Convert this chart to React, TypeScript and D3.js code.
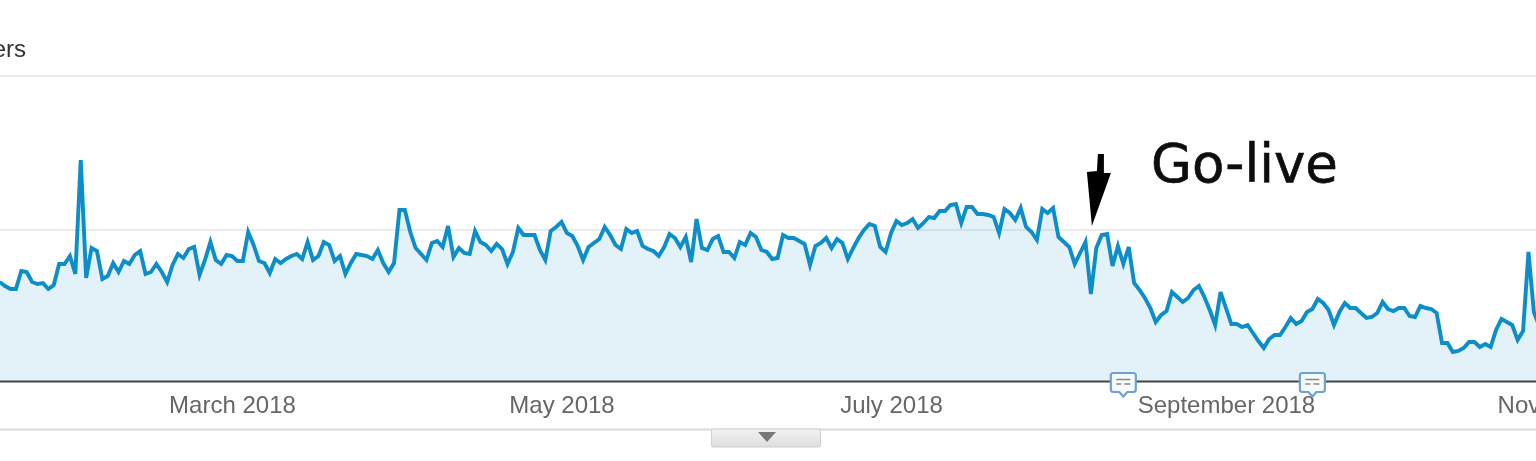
import { useEffect, useRef } from "react";
import * as d3 from "d3";

// daily values, one list per stretch of the timeline
const usersJanToMar = [99,95,92,92,110,109,99,97,98,92,96,117,117,125,107,221,103,133,130,102,105,118,109,120,117,126,130,107,109,117,109,99,116,127,123,132,134,106,121,139,121,117,126];
const usersMarToApr = [125,120,120,149,136,120,118,108,122,118,122,125,127,122,139,121,125,139,136,120,125,107,118,127,126,125,122,131,118,109,118,171,171];
const usersAprToJun = [149,133,127,121,138,140,134,155,124,133,128,127,150,139,136,130,137,132,117,129,153,146,146,146,131,121,150,154,159,148,145,135,121,134,138,142,154,146,136,132,152,148,150,135,132,130,125,134,147,143,134,144,119,162,133,131,142,145,129,129,123,139,136,148,144,131,129,122,123,146,143,143];
const usersJunToAug = [140,137,116,135,138,143,133,142,138,122,133,143,151,157,155,134,129,148,160,156,158,162,153,158,164,163,170,170,176,177,158,174,174,167,167,166,164,148,172,168,161,173,154,149,141,172,168,173,144,139,134,117,128,139,87,133,146,147,115,135,117,134,98,91,83,73,59,66,70,89,84,79,83,91,95];
const usersAugToOct = [84,71,56,89,73,57,57,54,56,48,40,33,42,46,46,54,63,57,60,69,72,82,78,71,56,69,78,73,73,68,63,64,68,79,72,70,73,73,65,64,75,73,72,68,38,38,29,30,33,39,39,34,37,34,51,62,59,56,41,50,129,69,55];

const users = [...usersJanToMar, ...usersMarToApr, ...usersAprToJun, ...usersJunToAug, ...usersAugToOct];

const firstDay = new Date(2018, 0, 17);
// the November label sits a few days into the month in the original
const monthTicks = [new Date(2018, 2, 1), new Date(2018, 4, 1), new Date(2018, 6, 1), new Date(2018, 8, 1), new Date(2018, 10, 6)];
const gridValues = [151, 305];
const noteDays = [new Date(2018, 7, 13), new Date(2018, 8, 17)];
const goLiveDay = new Date(2018, 7, 7);
const goLiveValue = 155;

const W = 1536;
const H = 461;
const pxPerDay = 5.402;

const App = () => {
  const svgRef = useRef<SVGSVGElement>(null);

  useEffect(() => {
    const svg = d3.select(svgRef.current);
    svg.selectAll("*").remove();

    const series = users.map((v, i) => ({ day: d3.timeDay.offset(firstDay, i), v }));

    const x = d3.scaleTime()
      .domain([firstDay, series[series.length - 1].day])
      .range([-0.3, -0.3 + (series.length - 1) * pxPerDay]);
    const y = d3.scaleLinear().domain([0, 305]).range([381, 76]);

    const defs = svg.append("defs");
    defs.append("filter").attr("id", "soft")
      .attr("x", "-5%").attr("y", "-5%").attr("width", "110%").attr("height", "110%")
      .append("feGaussianBlur").attr("stdDeviation", 0.7);
    const tabFill = defs.append("linearGradient").attr("id", "tab").attr("x2", 0).attr("y2", 1);
    tabFill.append("stop").attr("offset", 0).attr("stop-color", "#f2f2f2");
    tabFill.append("stop").attr("offset", 1).attr("stop-color", "#dedede");

    const root = svg.append("g").attr("filter", "url(#soft)");

    root.append("text")
      .attr("x", 26).attr("y", 57)
      .attr("text-anchor", "end")
      .attr("font-family", "'Liberation Sans', Arial, sans-serif")
      .attr("font-size", 24)
      .attr("fill", "#333")
      .text("Users");

    // gridlines
    root.append("g").selectAll("line").data(gridValues).join("line")
      .attr("x1", 0).attr("x2", W)
      .attr("y1", d => y(d)).attr("y2", d => y(d))
      .attr("stroke", "#ececec").attr("stroke-width", 2);

    const area = d3.area<{ day: Date; v: number }>()
      .x(d => x(d.day)).y0(y(0)).y1(d => y(d.v));
    const line = d3.line<{ day: Date; v: number }>()
      .x(d => x(d.day)).y(d => y(d.v));

    root.append("path").datum(series)
      .attr("d", area)
      .attr("fill", "#058dc7").attr("fill-opacity", 0.11);
    root.append("path").datum(series)
      .attr("d", line)
      .attr("fill", "none")
      .attr("stroke", "#0a8ec8")
      .attr("stroke-width", 3.9)
      .attr("stroke-linejoin", "miter");

    // x axis
    const xAxis = d3.axisBottom(x)
      .tickValues(monthTicks)
      .tickFormat(d3.timeFormat("%B %Y") as any)
      .tickSize(0)
      .tickPadding(15);
    const axisG = root.append("g").attr("transform", `translate(0,${y(0)})`).call(xAxis);
    axisG.select(".domain").remove();
    axisG.selectAll("text")
      .attr("font-family", "'Liberation Sans', Arial, sans-serif")
      .attr("font-size", 24)
      .attr("fill", "#666");
    root.append("line")
      .attr("x1", 0).attr("x2", W)
      .attr("y1", y(0) + 0.5).attr("y2", y(0) + 0.5)
      .attr("stroke", "#444").attr("stroke-width", 2);

    // comment markers sitting on the baseline
    const notes = root.append("g").selectAll("g").data(noteDays).join("g")
      .attr("transform", d => `translate(${x(d)},${y(0)})`);
    notes.append("path")
      .attr("d", "M-10,-8H10Q12.5,-8 12.5,-5.5V8.5Q12.5,11 10,11H4L0,15.5L-4,11H-10Q-12.5,11 -12.5,8.5V-5.5Q-12.5,-8 -10,-8Z")
      .attr("fill", "#f7fafd").attr("stroke", "#6da3d3").attr("stroke-width", 2.2);
    notes.append("path")
      .attr("d", "M-7,-1.5H7M-7,3H-2M1,3H7")
      .attr("stroke", "#888").attr("stroke-width", 1.6);

    // bottom rule and collapse tab
    root.append("line")
      .attr("x1", 0).attr("x2", W).attr("y1", 429.5).attr("y2", 429.5)
      .attr("stroke", "#d9d9d9").attr("stroke-width", 2);
    root.append("rect")
      .attr("x", 711.5).attr("y", 429).attr("width", 109).attr("height", 18).attr("rx", 2)
      .attr("fill", "url(#tab)").attr("stroke", "#cfcfcf");
    root.append("path")
      .attr("d", d3.line()([[758, 432], [776, 432], [767, 442]]) + "Z")
      .attr("fill", "#777");

    // hand drawn go-live note, anchored on the day it points at
    const tipX = x(goLiveDay) + 1;
    const tipY = y(goLiveValue);
    root.append("path")
      .attr("d", d3.line()([[0, 0], [-5, -54], [5, -55], [6, -72], [12, -72], [12, -53], [19, -53]]) + "Z")
      .attr("transform", `translate(${tipX},${tipY})`)
      .attr("fill", "#000");
    root.append("text")
      .attr("x", tipX + 59).attr("y", 182)
      .attr("font-family", "'DejaVu Sans', Verdana, sans-serif")
      .attr("font-size", 53)
      .attr("fill", "#0a0a0a")
      .attr("stroke", "#0a0a0a")
      .attr("stroke-width", 0.6)
      .text("Go-live");
  }, []);

  return (
    <svg
      ref={svgRef}
      width={W}
      height={H}
      style={{ position: "absolute", left: 0, top: 0, background: "#fff" }}
    />
  );
};

export default App;
